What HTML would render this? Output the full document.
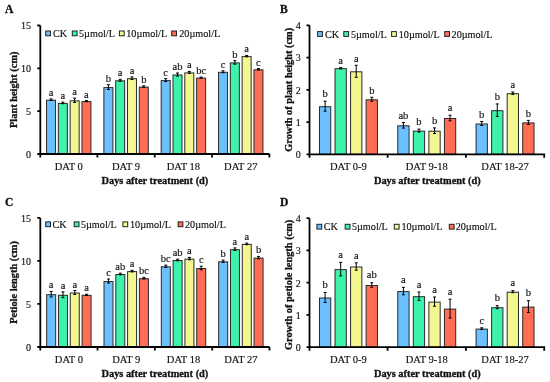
<!DOCTYPE html>
<html><head><meta charset="utf-8"><style>
html,body{margin:0;padding:0;background:#fff;width:550px;height:382px;overflow:hidden}
svg{display:block;will-change:transform}
text{font-family:"Liberation Serif", serif;fill:#111;stroke:#111;stroke-width:0.15px}
text[font-weight=bold]{stroke-width:0.3px}
</style></head><body>
<svg width="550" height="382" viewBox="0 0 550 382">
<rect width="550" height="382" fill="#fff"/>
<text x="5" y="13.4" font-weight="bold" font-size="11.6">A</text>
<rect x="46.55" y="100.2" width="9" height="53.8" fill="#6cc0fe" stroke="#2a2a2a" stroke-width="1"/>
<path d="M51.05 98.9V100.5M49.55 98.9H52.55M49.55 100.5H52.55" stroke="#000" stroke-width="1" fill="none"/>
<text x="51.05" y="95.9" text-anchor="middle" font-size="10.5">a</text>
<rect x="58.34" y="103.4" width="9" height="50.6" fill="#3df3ab" stroke="#2a2a2a" stroke-width="1"/>
<path d="M62.84 102.1V103.7M61.34 102.1H64.34M61.34 103.7H64.34" stroke="#000" stroke-width="1" fill="none"/>
<text x="62.84" y="99.1" text-anchor="middle" font-size="10.5">a</text>
<rect x="70.15" y="100.8" width="9" height="53.2" fill="#f4f690" stroke="#2a2a2a" stroke-width="1"/>
<path d="M74.65 98.1V102.5M73.15 98.1H76.15M73.15 102.5H76.15" stroke="#000" stroke-width="1" fill="none"/>
<text x="74.65" y="95.1" text-anchor="middle" font-size="10.5">a</text>
<rect x="81.95" y="101.6" width="9" height="52.4" fill="#fe6d54" stroke="#2a2a2a" stroke-width="1"/>
<path d="M86.45 100.6V101.6M84.95 100.6H87.95M84.95 101.6H87.95" stroke="#000" stroke-width="1" fill="none"/>
<text x="86.45" y="97.6" text-anchor="middle" font-size="10.5">a</text>
<rect x="103.88" y="87.6" width="9" height="66.4" fill="#6cc0fe" stroke="#2a2a2a" stroke-width="1"/>
<path d="M108.38 84.7V89.5M106.88 84.7H109.88M106.88 89.5H109.88" stroke="#000" stroke-width="1" fill="none"/>
<text x="108.38" y="81.7" text-anchor="middle" font-size="10.5">b</text>
<rect x="115.67" y="80.8" width="9" height="73.2" fill="#3df3ab" stroke="#2a2a2a" stroke-width="1"/>
<path d="M120.17 79.3V81.3M118.67 79.3H121.67M118.67 81.3H121.67" stroke="#000" stroke-width="1" fill="none"/>
<text x="120.17" y="76.3" text-anchor="middle" font-size="10.5">a</text>
<rect x="127.47" y="78.7" width="9" height="75.3" fill="#f4f690" stroke="#2a2a2a" stroke-width="1"/>
<path d="M131.97 76.9V79.5M130.47 76.9H133.47M130.47 79.5H133.47" stroke="#000" stroke-width="1" fill="none"/>
<text x="131.97" y="73.9" text-anchor="middle" font-size="10.5">a</text>
<rect x="139.28" y="87.1" width="9" height="66.9" fill="#fe6d54" stroke="#2a2a2a" stroke-width="1"/>
<path d="M143.78 85.9V87.3M142.28 85.9H145.28M142.28 87.3H145.28" stroke="#000" stroke-width="1" fill="none"/>
<text x="143.78" y="82.9" text-anchor="middle" font-size="10.5">b</text>
<rect x="161.2" y="80.6" width="9" height="73.4" fill="#6cc0fe" stroke="#2a2a2a" stroke-width="1"/>
<path d="M165.7 78.6V81.6M164.2 78.6H167.2M164.2 81.6H167.2" stroke="#000" stroke-width="1" fill="none"/>
<text x="165.7" y="75.6" text-anchor="middle" font-size="10.5">c</text>
<rect x="173" y="75" width="9" height="79" fill="#3df3ab" stroke="#2a2a2a" stroke-width="1"/>
<path d="M177.5 73V76M176 73H179M176 76H179" stroke="#000" stroke-width="1" fill="none"/>
<text x="177.5" y="70" text-anchor="middle" font-size="10.5">ab</text>
<rect x="184.8" y="72.9" width="9" height="81.1" fill="#f4f690" stroke="#2a2a2a" stroke-width="1"/>
<path d="M189.3 71.4V73.4M187.8 71.4H190.8M187.8 73.4H190.8" stroke="#000" stroke-width="1" fill="none"/>
<text x="189.3" y="68.4" text-anchor="middle" font-size="10.5">a</text>
<rect x="196.6" y="78.1" width="9" height="75.9" fill="#fe6d54" stroke="#2a2a2a" stroke-width="1"/>
<path d="M201.1 77.1V78.1M199.6 77.1H202.6M199.6 78.1H202.6" stroke="#000" stroke-width="1" fill="none"/>
<text x="201.1" y="74.1" text-anchor="middle" font-size="10.5">bc</text>
<rect x="218.54" y="72.3" width="9" height="81.7" fill="#6cc0fe" stroke="#2a2a2a" stroke-width="1"/>
<path d="M223.04 70.8V72.8M221.54 70.8H224.54M221.54 72.8H224.54" stroke="#000" stroke-width="1" fill="none"/>
<text x="223.04" y="67.8" text-anchor="middle" font-size="10.5">c</text>
<rect x="230.34" y="62.9" width="9" height="91.1" fill="#3df3ab" stroke="#2a2a2a" stroke-width="1"/>
<path d="M234.84 60.6V64.2M233.34 60.6H236.34M233.34 64.2H236.34" stroke="#000" stroke-width="1" fill="none"/>
<text x="234.84" y="57.6" text-anchor="middle" font-size="10.5">b</text>
<rect x="242.14" y="56.6" width="9" height="97.4" fill="#f4f690" stroke="#2a2a2a" stroke-width="1"/>
<path d="M246.64 55.4V56.8M245.14 55.4H248.14M245.14 56.8H248.14" stroke="#000" stroke-width="1" fill="none"/>
<text x="246.64" y="52.4" text-anchor="middle" font-size="10.5">a</text>
<rect x="253.94" y="69.8" width="9" height="84.2" fill="#fe6d54" stroke="#2a2a2a" stroke-width="1"/>
<path d="M258.44 68.6V70M256.94 68.6H259.94M256.94 70H259.94" stroke="#000" stroke-width="1" fill="none"/>
<text x="258.44" y="65.6" text-anchor="middle" font-size="10.5">c</text>
<path d="M40.3 25.5V154H269.5" stroke="#000" stroke-width="1.8" fill="none"/>
<text x="31.1" y="157.9" text-anchor="end" font-size="10">0</text>
<text x="31.1" y="115.06" text-anchor="end" font-size="10">5</text>
<text x="31.1" y="72.23" text-anchor="end" font-size="10">10</text>
<text x="31.1" y="29.4" text-anchor="end" font-size="10">15</text>
<text x="68.75" y="169.6" text-anchor="middle" font-size="10.5">DAT 0</text>
<text x="126.08" y="169.6" text-anchor="middle" font-size="10.5">DAT 9</text>
<text x="183.4" y="169.6" text-anchor="middle" font-size="10.5">DAT 18</text>
<text x="240.74" y="169.6" text-anchor="middle" font-size="10.5">DAT 27</text>
<path d="M37.3 154H40.3M37.3 111.16H40.3M37.3 68.33H40.3M37.3 25.5H40.3M40.3 154V157.5M97.41 154V157.5M154.74 154V157.5M212.07 154V157.5M269.4 154V157.5" stroke="#000" stroke-width="1.8" fill="none"/>
<text x="154.9" y="183.9" text-anchor="middle" font-weight="bold" font-size="10.35">Days after treatment (d)</text>
<text transform="translate(16.8 89.75) rotate(-90)" text-anchor="middle" font-weight="bold" font-size="10.35">Plant height (cm)</text>
<rect x="45.7" y="31" width="4.8" height="4.8" fill="#6cc0fe" stroke="#222" stroke-width="1"/>
<text x="52.98" y="37.1" font-size="10.2">CK</text>
<rect x="72.3" y="31" width="4.8" height="4.8" fill="#3df3ab" stroke="#222" stroke-width="1"/>
<text x="79.01" y="37.1" font-size="10.2">5µmol/L</text>
<rect x="119.4" y="31" width="4.8" height="4.8" fill="#f4f690" stroke="#222" stroke-width="1"/>
<text x="126.2" y="37.1" font-size="10.2">10µmol/L</text>
<rect x="171.7" y="31" width="4.8" height="4.8" fill="#fe6d54" stroke="#222" stroke-width="1"/>
<text x="179.25" y="37.1" font-size="10.2">20µmol/L</text>
<text x="280" y="13.4" font-weight="bold" font-size="11.6">B</text>
<rect x="319.47" y="106.7" width="11.3" height="47.6" fill="#6cc0fe" stroke="#2a2a2a" stroke-width="1"/>
<path d="M325.12 101.2V111.2M323.62 101.2H326.62M323.62 111.2H326.62" stroke="#000" stroke-width="1" fill="none"/>
<text x="325.12" y="97.4" text-anchor="middle" font-size="10.5">b</text>
<rect x="335.02" y="68.7" width="11.3" height="85.6" fill="#3df3ab" stroke="#2a2a2a" stroke-width="1"/>
<path d="M340.67 67.6V68.8M339.17 67.6H342.17M339.17 68.8H342.17" stroke="#000" stroke-width="1" fill="none"/>
<text x="340.67" y="63.8" text-anchor="middle" font-size="10.5">a</text>
<rect x="350.57" y="71.8" width="11.3" height="82.5" fill="#f4f690" stroke="#2a2a2a" stroke-width="1"/>
<path d="M356.22 65.3V77.3M354.72 65.3H357.72M354.72 77.3H357.72" stroke="#000" stroke-width="1" fill="none"/>
<text x="356.22" y="61.5" text-anchor="middle" font-size="10.5">a</text>
<rect x="366.12" y="99.8" width="11.3" height="54.5" fill="#fe6d54" stroke="#2a2a2a" stroke-width="1"/>
<path d="M371.77 97.3V101.3M370.27 97.3H373.27M370.27 101.3H373.27" stroke="#000" stroke-width="1" fill="none"/>
<text x="371.77" y="93.5" text-anchor="middle" font-size="10.5">b</text>
<rect x="397.77" y="125.8" width="11.3" height="28.5" fill="#6cc0fe" stroke="#2a2a2a" stroke-width="1"/>
<path d="M403.42 122.5V128.1M401.92 122.5H404.92M401.92 128.1H404.92" stroke="#000" stroke-width="1" fill="none"/>
<text x="403.42" y="118.7" text-anchor="middle" font-size="10.5">ab</text>
<rect x="413.32" y="131.1" width="11.3" height="23.2" fill="#3df3ab" stroke="#2a2a2a" stroke-width="1"/>
<path d="M418.97 129.1V132.1M417.47 129.1H420.47M417.47 132.1H420.47" stroke="#000" stroke-width="1" fill="none"/>
<text x="418.97" y="125.3" text-anchor="middle" font-size="10.5">b</text>
<rect x="428.88" y="131.2" width="11.3" height="23.1" fill="#f4f690" stroke="#2a2a2a" stroke-width="1"/>
<path d="M434.52 127.9V133.5M433.02 127.9H436.02M433.02 133.5H436.02" stroke="#000" stroke-width="1" fill="none"/>
<text x="434.52" y="124.1" text-anchor="middle" font-size="10.5">b</text>
<rect x="444.42" y="118.5" width="11.3" height="35.8" fill="#fe6d54" stroke="#2a2a2a" stroke-width="1"/>
<path d="M450.07 115.2V120.8M448.57 115.2H451.57M448.57 120.8H451.57" stroke="#000" stroke-width="1" fill="none"/>
<text x="450.07" y="111.4" text-anchor="middle" font-size="10.5">a</text>
<rect x="476.07" y="124" width="11.3" height="30.3" fill="#6cc0fe" stroke="#2a2a2a" stroke-width="1"/>
<path d="M481.72 121.5V125.5M480.22 121.5H483.22M480.22 125.5H483.22" stroke="#000" stroke-width="1" fill="none"/>
<text x="481.72" y="117.7" text-anchor="middle" font-size="10.5">b</text>
<rect x="491.62" y="110.7" width="11.3" height="43.6" fill="#3df3ab" stroke="#2a2a2a" stroke-width="1"/>
<path d="M497.27 103.9V116.5M495.77 103.9H498.77M495.77 116.5H498.77" stroke="#000" stroke-width="1" fill="none"/>
<text x="497.27" y="100.1" text-anchor="middle" font-size="10.5">b</text>
<rect x="507.18" y="93.7" width="11.3" height="60.6" fill="#f4f690" stroke="#2a2a2a" stroke-width="1"/>
<path d="M512.83 92V94.4M511.33 92H514.33M511.33 94.4H514.33" stroke="#000" stroke-width="1" fill="none"/>
<text x="512.83" y="88.2" text-anchor="middle" font-size="10.5">a</text>
<rect x="522.73" y="122.9" width="11.3" height="31.4" fill="#fe6d54" stroke="#2a2a2a" stroke-width="1"/>
<path d="M528.38 120.4V124.4M526.88 120.4H529.88M526.88 124.4H529.88" stroke="#000" stroke-width="1" fill="none"/>
<text x="528.38" y="116.6" text-anchor="middle" font-size="10.5">b</text>
<path d="M309.5 25.3V154.3H545.1" stroke="#000" stroke-width="1.8" fill="none"/>
<text x="300.8" y="158.2" text-anchor="end" font-size="10">0</text>
<text x="300.8" y="125.95" text-anchor="end" font-size="10">1</text>
<text x="300.8" y="93.7" text-anchor="end" font-size="10">2</text>
<text x="300.8" y="61.45" text-anchor="end" font-size="10">3</text>
<text x="300.8" y="29.2" text-anchor="end" font-size="10">4</text>
<text x="348.45" y="169.9" text-anchor="middle" font-size="10.5">DAT 0-9</text>
<text x="426.75" y="169.9" text-anchor="middle" font-size="10.5">DAT 9-18</text>
<text x="505.05" y="169.9" text-anchor="middle" font-size="10.5">DAT 18-27</text>
<path d="M306.5 154.3H309.5M306.5 122.05H309.5M306.5 89.8H309.5M306.5 57.55H309.5M306.5 25.3H309.5M309.5 154.3V157.8M387.6 154.3V157.8M465.9 154.3V157.8M544.2 154.3V157.8" stroke="#000" stroke-width="1.8" fill="none"/>
<text x="427.3" y="184.2" text-anchor="middle" font-weight="bold" font-size="10.35">Days after treatment (d)</text>
<text transform="translate(291.8 89.8) rotate(-90)" text-anchor="middle" font-weight="bold" font-size="10.35">Growth of plant height (cm)</text>
<rect x="317.6" y="31.6" width="4.8" height="4.8" fill="#6cc0fe" stroke="#222" stroke-width="1"/>
<text x="324.88" y="37.7" font-size="10.2">CK</text>
<rect x="343.8" y="31.6" width="4.8" height="4.8" fill="#3df3ab" stroke="#222" stroke-width="1"/>
<text x="350.91" y="37.7" font-size="10.2">5µmol/L</text>
<rect x="391.6" y="31.6" width="4.8" height="4.8" fill="#f4f690" stroke="#222" stroke-width="1"/>
<text x="398.7" y="37.7" font-size="10.2">10µmol/L</text>
<rect x="444.7" y="31.6" width="4.8" height="4.8" fill="#fe6d54" stroke="#222" stroke-width="1"/>
<text x="451.55" y="37.7" font-size="10.2">20µmol/L</text>
<text x="5" y="205.8" font-weight="bold" font-size="11.6">C</text>
<rect x="46.67" y="294.7" width="9" height="52.3" fill="#6cc0fe" stroke="#2a2a2a" stroke-width="1"/>
<path d="M51.17 291.4V297M49.67 291.4H52.67M49.67 297H52.67" stroke="#000" stroke-width="1" fill="none"/>
<text x="51.17" y="288.4" text-anchor="middle" font-size="10.5">a</text>
<rect x="58.47" y="295.3" width="9" height="51.7" fill="#3df3ab" stroke="#2a2a2a" stroke-width="1"/>
<path d="M62.97 291.9V297.7M61.47 291.9H64.47M61.47 297.7H64.47" stroke="#000" stroke-width="1" fill="none"/>
<text x="62.97" y="288.9" text-anchor="middle" font-size="10.5">a</text>
<rect x="70.27" y="293" width="9" height="54" fill="#f4f690" stroke="#2a2a2a" stroke-width="1"/>
<path d="M74.77 290.5V294.5M73.27 290.5H76.27M73.27 294.5H76.27" stroke="#000" stroke-width="1" fill="none"/>
<text x="74.77" y="287.5" text-anchor="middle" font-size="10.5">a</text>
<rect x="82.07" y="295.3" width="9" height="51.7" fill="#fe6d54" stroke="#2a2a2a" stroke-width="1"/>
<path d="M86.57 294.3V295.3M85.07 294.3H88.07M85.07 295.3H88.07" stroke="#000" stroke-width="1" fill="none"/>
<text x="86.57" y="291.3" text-anchor="middle" font-size="10.5">a</text>
<rect x="104" y="281.5" width="9" height="65.5" fill="#6cc0fe" stroke="#2a2a2a" stroke-width="1"/>
<path d="M108.5 279V283M107 279H110M107 283H110" stroke="#000" stroke-width="1" fill="none"/>
<text x="108.5" y="276" text-anchor="middle" font-size="10.5">c</text>
<rect x="115.8" y="274.5" width="9" height="72.5" fill="#3df3ab" stroke="#2a2a2a" stroke-width="1"/>
<path d="M120.3 273.2V274.8M118.8 273.2H121.8M118.8 274.8H121.8" stroke="#000" stroke-width="1" fill="none"/>
<text x="120.3" y="270.2" text-anchor="middle" font-size="10.5">ab</text>
<rect x="127.59" y="271.6" width="9" height="75.4" fill="#f4f690" stroke="#2a2a2a" stroke-width="1"/>
<path d="M132.09 270.3V271.9M130.59 270.3H133.59M130.59 271.9H133.59" stroke="#000" stroke-width="1" fill="none"/>
<text x="132.09" y="267.3" text-anchor="middle" font-size="10.5">a</text>
<rect x="139.4" y="278.7" width="9" height="68.3" fill="#fe6d54" stroke="#2a2a2a" stroke-width="1"/>
<path d="M143.9 277.4V279M142.4 277.4H145.4M142.4 279H145.4" stroke="#000" stroke-width="1" fill="none"/>
<text x="143.9" y="274.4" text-anchor="middle" font-size="10.5">bc</text>
<rect x="161.32" y="266.8" width="9" height="80.2" fill="#6cc0fe" stroke="#2a2a2a" stroke-width="1"/>
<path d="M165.82 265.1V267.5M164.32 265.1H167.32M164.32 267.5H167.32" stroke="#000" stroke-width="1" fill="none"/>
<text x="165.82" y="262.1" text-anchor="middle" font-size="10.5">bc</text>
<rect x="173.12" y="260.5" width="9" height="86.5" fill="#3df3ab" stroke="#2a2a2a" stroke-width="1"/>
<path d="M177.62 259.2V260.8M176.12 259.2H179.12M176.12 260.8H179.12" stroke="#000" stroke-width="1" fill="none"/>
<text x="177.62" y="256.2" text-anchor="middle" font-size="10.5">ab</text>
<rect x="184.92" y="259.1" width="9" height="87.9" fill="#f4f690" stroke="#2a2a2a" stroke-width="1"/>
<path d="M189.42 257.4V259.8M187.92 257.4H190.92M187.92 259.8H190.92" stroke="#000" stroke-width="1" fill="none"/>
<text x="189.42" y="254.4" text-anchor="middle" font-size="10.5">a</text>
<rect x="196.72" y="268.5" width="9" height="78.5" fill="#fe6d54" stroke="#2a2a2a" stroke-width="1"/>
<path d="M201.22 266.2V269.8M199.72 266.2H202.72M199.72 269.8H202.72" stroke="#000" stroke-width="1" fill="none"/>
<text x="201.22" y="263.2" text-anchor="middle" font-size="10.5">c</text>
<rect x="218.66" y="261.8" width="9" height="85.2" fill="#6cc0fe" stroke="#2a2a2a" stroke-width="1"/>
<path d="M223.16 260.1V262.5M221.66 260.1H224.66M221.66 262.5H224.66" stroke="#000" stroke-width="1" fill="none"/>
<text x="223.16" y="257.1" text-anchor="middle" font-size="10.5">b</text>
<rect x="230.46" y="249.7" width="9" height="97.3" fill="#3df3ab" stroke="#2a2a2a" stroke-width="1"/>
<path d="M234.96 247.9V250.5M233.46 247.9H236.46M233.46 250.5H236.46" stroke="#000" stroke-width="1" fill="none"/>
<text x="234.96" y="244.9" text-anchor="middle" font-size="10.5">a</text>
<rect x="242.26" y="244.4" width="9" height="102.6" fill="#f4f690" stroke="#2a2a2a" stroke-width="1"/>
<path d="M246.76 243.1V244.7M245.26 243.1H248.26M245.26 244.7H248.26" stroke="#000" stroke-width="1" fill="none"/>
<text x="246.76" y="240.1" text-anchor="middle" font-size="10.5">a</text>
<rect x="254.06" y="258.1" width="9" height="88.9" fill="#fe6d54" stroke="#2a2a2a" stroke-width="1"/>
<path d="M258.56 256.4V258.8M257.06 256.4H260.06M257.06 258.8H260.06" stroke="#000" stroke-width="1" fill="none"/>
<text x="258.56" y="253.4" text-anchor="middle" font-size="10.5">b</text>
<path d="M40.3 217.9V347H269.5" stroke="#000" stroke-width="1.8" fill="none"/>
<text x="31.1" y="350.9" text-anchor="end" font-size="10">0</text>
<text x="31.1" y="307.87" text-anchor="end" font-size="10">5</text>
<text x="31.1" y="264.83" text-anchor="end" font-size="10">10</text>
<text x="31.1" y="221.8" text-anchor="end" font-size="10">15</text>
<text x="68.87" y="362.6" text-anchor="middle" font-size="10.5">DAT 0</text>
<text x="126.2" y="362.6" text-anchor="middle" font-size="10.5">DAT 9</text>
<text x="183.52" y="362.6" text-anchor="middle" font-size="10.5">DAT 18</text>
<text x="240.86" y="362.6" text-anchor="middle" font-size="10.5">DAT 27</text>
<path d="M37.3 347H40.3M37.3 303.97H40.3M37.3 260.93H40.3M37.3 217.9H40.3M40.3 347V350.5M97.53 347V350.5M154.86 347V350.5M212.19 347V350.5M269.52 347V350.5" stroke="#000" stroke-width="1.8" fill="none"/>
<text x="154.9" y="376.9" text-anchor="middle" font-weight="bold" font-size="10.35">Days after treatment (d)</text>
<text transform="translate(16.8 282.45) rotate(-90)" text-anchor="middle" font-weight="bold" font-size="10.35">Petiole length (cm)</text>
<rect x="45.7" y="221.9" width="4.8" height="4.8" fill="#6cc0fe" stroke="#222" stroke-width="1"/>
<text x="52.58" y="228" font-size="10.2">CK</text>
<rect x="74.2" y="221.9" width="4.8" height="4.8" fill="#3df3ab" stroke="#222" stroke-width="1"/>
<text x="80.91" y="228" font-size="10.2">5µmol/L</text>
<rect x="122.9" y="221.9" width="4.8" height="4.8" fill="#f4f690" stroke="#222" stroke-width="1"/>
<text x="130" y="228" font-size="10.2">10µmol/L</text>
<rect x="178.1" y="221.9" width="4.8" height="4.8" fill="#fe6d54" stroke="#222" stroke-width="1"/>
<text x="184.95" y="228" font-size="10.2">20µmol/L</text>
<text x="280" y="205.6" font-weight="bold" font-size="11.6">D</text>
<rect x="319.47" y="298" width="11.3" height="49.2" fill="#6cc0fe" stroke="#2a2a2a" stroke-width="1"/>
<path d="M325.12 292.5V302.5M323.62 292.5H326.62M323.62 302.5H326.62" stroke="#000" stroke-width="1" fill="none"/>
<text x="325.12" y="288.2" text-anchor="middle" font-size="10.5">b</text>
<rect x="335.02" y="269.6" width="11.3" height="77.6" fill="#3df3ab" stroke="#2a2a2a" stroke-width="1"/>
<path d="M340.67 262.3V275.9M339.17 262.3H342.17M339.17 275.9H342.17" stroke="#000" stroke-width="1" fill="none"/>
<text x="340.67" y="258" text-anchor="middle" font-size="10.5">a</text>
<rect x="350.57" y="267" width="11.3" height="80.2" fill="#f4f690" stroke="#2a2a2a" stroke-width="1"/>
<path d="M356.22 262.8V270.2M354.72 262.8H357.72M354.72 270.2H357.72" stroke="#000" stroke-width="1" fill="none"/>
<text x="356.22" y="258.5" text-anchor="middle" font-size="10.5">a</text>
<rect x="366.12" y="285.5" width="11.3" height="61.7" fill="#fe6d54" stroke="#2a2a2a" stroke-width="1"/>
<path d="M371.77 282.7V287.3M370.27 282.7H373.27M370.27 287.3H373.27" stroke="#000" stroke-width="1" fill="none"/>
<text x="371.77" y="278.4" text-anchor="middle" font-size="10.5">ab</text>
<rect x="397.77" y="291.6" width="11.3" height="55.6" fill="#6cc0fe" stroke="#2a2a2a" stroke-width="1"/>
<path d="M403.42 287.4V294.8M401.92 287.4H404.92M401.92 294.8H404.92" stroke="#000" stroke-width="1" fill="none"/>
<text x="403.42" y="283.1" text-anchor="middle" font-size="10.5">a</text>
<rect x="413.32" y="296.7" width="11.3" height="50.5" fill="#3df3ab" stroke="#2a2a2a" stroke-width="1"/>
<path d="M418.97 292V300.4M417.47 292H420.47M417.47 300.4H420.47" stroke="#000" stroke-width="1" fill="none"/>
<text x="418.97" y="287.7" text-anchor="middle" font-size="10.5">a</text>
<rect x="428.88" y="302.1" width="11.3" height="45.1" fill="#f4f690" stroke="#2a2a2a" stroke-width="1"/>
<path d="M434.52 297V306.2M433.02 297H436.02M433.02 306.2H436.02" stroke="#000" stroke-width="1" fill="none"/>
<text x="434.52" y="292.7" text-anchor="middle" font-size="10.5">a</text>
<rect x="444.42" y="309.1" width="11.3" height="38.1" fill="#fe6d54" stroke="#2a2a2a" stroke-width="1"/>
<path d="M450.07 299.2V318M448.57 299.2H451.57M448.57 318H451.57" stroke="#000" stroke-width="1" fill="none"/>
<text x="450.07" y="294.9" text-anchor="middle" font-size="10.5">a</text>
<rect x="476.07" y="329.1" width="11.3" height="18.1" fill="#6cc0fe" stroke="#2a2a2a" stroke-width="1"/>
<path d="M481.72 327.8V329.4M480.22 327.8H483.22M480.22 329.4H483.22" stroke="#000" stroke-width="1" fill="none"/>
<text x="481.72" y="323.5" text-anchor="middle" font-size="10.5">c</text>
<rect x="491.62" y="307.7" width="11.3" height="39.5" fill="#3df3ab" stroke="#2a2a2a" stroke-width="1"/>
<path d="M497.27 305.7V308.7M495.77 305.7H498.77M495.77 308.7H498.77" stroke="#000" stroke-width="1" fill="none"/>
<text x="497.27" y="301.4" text-anchor="middle" font-size="10.5">b</text>
<rect x="507.18" y="292.2" width="11.3" height="55" fill="#f4f690" stroke="#2a2a2a" stroke-width="1"/>
<path d="M512.83 290.7V292.7M511.33 290.7H514.33M511.33 292.7H514.33" stroke="#000" stroke-width="1" fill="none"/>
<text x="512.83" y="286.4" text-anchor="middle" font-size="10.5">a</text>
<rect x="522.73" y="307.1" width="11.3" height="40.1" fill="#fe6d54" stroke="#2a2a2a" stroke-width="1"/>
<path d="M528.38 300.7V312.5M526.88 300.7H529.88M526.88 312.5H529.88" stroke="#000" stroke-width="1" fill="none"/>
<text x="528.38" y="296.4" text-anchor="middle" font-size="10.5">b</text>
<path d="M309.5 218.2V347.2H545.1" stroke="#000" stroke-width="1.8" fill="none"/>
<text x="300.8" y="351.1" text-anchor="end" font-size="10">0</text>
<text x="300.8" y="318.85" text-anchor="end" font-size="10">1</text>
<text x="300.8" y="286.6" text-anchor="end" font-size="10">2</text>
<text x="300.8" y="254.35" text-anchor="end" font-size="10">3</text>
<text x="300.8" y="222.1" text-anchor="end" font-size="10">4</text>
<text x="348.45" y="362.8" text-anchor="middle" font-size="10.5">DAT 0-9</text>
<text x="426.75" y="362.8" text-anchor="middle" font-size="10.5">DAT 9-18</text>
<text x="505.05" y="362.8" text-anchor="middle" font-size="10.5">DAT 18-27</text>
<path d="M306.5 347.2H309.5M306.5 314.95H309.5M306.5 282.7H309.5M306.5 250.45H309.5M306.5 218.2H309.5M309.5 347.2V350.7M387.6 347.2V350.7M465.9 347.2V350.7M544.2 347.2V350.7" stroke="#000" stroke-width="1.8" fill="none"/>
<text x="427.3" y="377.1" text-anchor="middle" font-weight="bold" font-size="10.35">Days after treatment (d)</text>
<text transform="translate(291.8 284.9) rotate(-90)" text-anchor="middle" font-weight="bold" font-size="10.35">Growth of petiole length (cm)</text>
<rect x="316.9" y="224.3" width="4.8" height="4.8" fill="#6cc0fe" stroke="#222" stroke-width="1"/>
<text x="323.68" y="230.4" font-size="10.2">CK</text>
<rect x="345.2" y="224.3" width="4.8" height="4.8" fill="#3df3ab" stroke="#222" stroke-width="1"/>
<text x="351.91" y="230.4" font-size="10.2">5µmol/L</text>
<rect x="394.3" y="224.3" width="4.8" height="4.8" fill="#f4f690" stroke="#222" stroke-width="1"/>
<text x="401.4" y="230.4" font-size="10.2">10µmol/L</text>
<rect x="449.3" y="224.3" width="4.8" height="4.8" fill="#fe6d54" stroke="#222" stroke-width="1"/>
<text x="455.65" y="230.4" font-size="10.2">20µmol/L</text>
</svg>
</body></html>
